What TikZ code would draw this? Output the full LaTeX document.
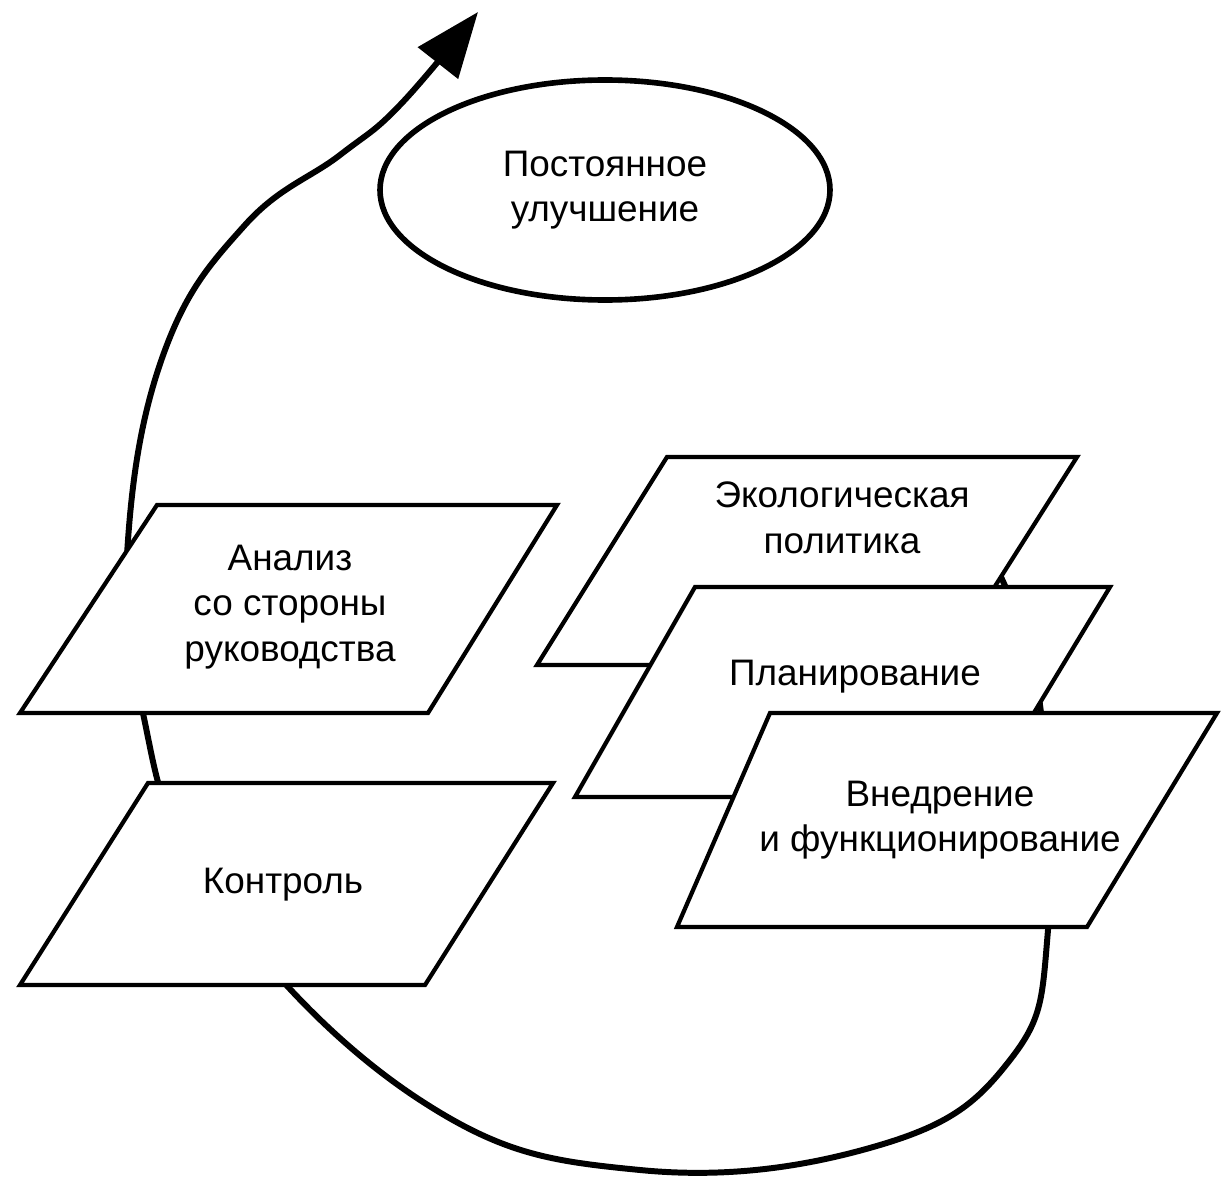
\documentclass[tikz,border=0pt]{standalone}
\usepackage{fontspec}
\setmainfont{Liberation Sans}
\usetikzlibrary{arrows.meta, shapes.geometric}

\begin{document}
\begin{tikzpicture}[
		x=0.02cm, y=-0.02cm,
		plate/.style={draw, fill=white, line width=2.4pt, line join=miter},
		label/.style={align=center, font=\fontsize{21}{26}\selectfont},
		cycle/.style={line width=3.4pt, -{Triangle[length=1.3cm, width=1.0cm]}}
		]
		\useasboundingbox (0,0) rectangle (1221,1193);
		
		% --- goal ---
		\node[ellipse, draw, line width=3.2pt, minimum width=450*0.02cm, minimum height=220*0.02cm,
		label] (goal) at (605,190) {Постоянное\\улучшение};
		
		% --- spiral (mostly hidden by the plates) ---
		\draw[cycle] plot[smooth, tension=0.7] coordinates {
			(1000,575) (1040,705) (1048,930) (1010,1060) (880,1145) (640,1170) (420,1100)
			(210,890) (140,700) (128,540) (165,350) (245,225) (340,155) (400,105) (478,12)};
		
		% --- plates ---
		\draw[plate] (667,457) -- (1077,457) -- (945,665) -- (537,665) -- cycle;
		\node[label] (policy) at (842,518) {Экологическая\\политика};
		
		\draw[plate] (695,587) -- (1110,587) -- (983,797) -- (575,797) -- cycle;
		\node[label] (plan) at (855,677) {Планирование};
		
		\draw[plate] (770,713) -- (1217,713) -- (1087,927) -- (677,927) -- cycle;
		\node[label] (run) at (940,820) {Внедрение\\и функционирование};
		
		\draw[plate] (157,505) -- (557,505) -- (428,713) -- (20,713) -- cycle;
		\node[label] (review) at (290,607) {Анализ\\со стороны\\руководства};
		
		\draw[plate] (148,783) -- (553,783) -- (425,985) -- (20,985) -- cycle;
		\node[label] (check) at (283,885) {Контроль};
		
	\end{tikzpicture}
\end{document}
